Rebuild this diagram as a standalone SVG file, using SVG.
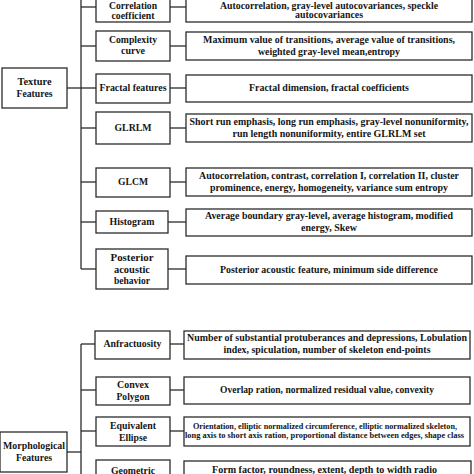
<svg xmlns="http://www.w3.org/2000/svg" width="474" height="474" viewBox="0 0 474 474">
<style>
rect{fill:#fff;stroke:#2b2b2b;stroke-width:1.3}
.c line{stroke:#2b2b2b;stroke-width:1.3}
text{font-family:"Liberation Serif","Times New Roman",serif;font-weight:bold;fill:#151515;text-anchor:middle}
.m{font-size:10.5px}
.r{font-size:10px}
.s{font-size:8.5px}
</style>
<rect x="0" y="0" width="474" height="474" style="fill:#fff;stroke:none"/>
<g class="c" id="connectors">
<line x1="81" y1="0" x2="81" y2="269"/>
<line x1="67" y1="88" x2="81" y2="88"/>
<line x1="81" y1="7" x2="96" y2="7"/><line x1="170" y1="7" x2="186" y2="7"/>
<line x1="81" y1="46" x2="96" y2="46"/><line x1="170" y1="46" x2="186" y2="46"/>
<line x1="81" y1="88" x2="96" y2="88"/><line x1="170" y1="88" x2="186" y2="88"/>
<line x1="81" y1="128" x2="96" y2="128"/><line x1="170" y1="128" x2="186" y2="128"/>
<line x1="81" y1="182" x2="96" y2="182"/><line x1="170" y1="182" x2="186" y2="182"/>
<line x1="81" y1="222" x2="96" y2="222"/><line x1="168" y1="222" x2="186" y2="222"/>
<line x1="81" y1="269" x2="96" y2="269"/><line x1="168" y1="269" x2="186" y2="269"/>
<line x1="81" y1="344" x2="81" y2="474"/>
<line x1="67" y1="452" x2="81" y2="452"/>
<line x1="81" y1="344" x2="95" y2="344"/><line x1="170" y1="344" x2="184" y2="344"/>
<line x1="81" y1="390" x2="96" y2="390"/><line x1="170" y1="390" x2="184" y2="390"/>
<line x1="81" y1="431" x2="96" y2="431"/><line x1="170" y1="431" x2="184" y2="431"/>
</g>
<g id="texture">
<rect x="2" y="68" width="65" height="40"/>
<text class="m" x="34.5" y="85" textLength="34" lengthAdjust="spacingAndGlyphs">Texture</text>
<text class="m" x="34.5" y="97" textLength="36" lengthAdjust="spacingAndGlyphs">Features</text>
</g>
<g id="correlation">
<rect x="96" y="-8" width="74" height="30"/>
<text class="m" x="133" y="8.5" textLength="48" lengthAdjust="spacingAndGlyphs">Correlation</text>
<text class="m" x="133" y="18.5" textLength="43" lengthAdjust="spacingAndGlyphs">coefficient</text>
</g>
<g id="correlation-detail">
<rect x="186" y="-8" width="286" height="30"/>
<text class="r" x="329" y="8.5" textLength="218" lengthAdjust="spacingAndGlyphs">Autocorrelation, gray-level autocovariances, speckle</text>
<text class="r" x="329" y="18" textLength="68" lengthAdjust="spacingAndGlyphs">autocovariances</text>
</g>
<g id="complexity">
<rect x="96" y="31" width="74" height="30"/>
<text class="m" x="133" y="42.5" textLength="48" lengthAdjust="spacingAndGlyphs">Complexity</text>
<text class="m" x="133" y="54" textLength="24" lengthAdjust="spacingAndGlyphs">curve</text>
</g>
<g id="complexity-detail">
<rect x="186" y="32" width="286" height="28"/>
<text class="r" x="329" y="42.5" textLength="252" lengthAdjust="spacingAndGlyphs">Maximum value of transitions, average value of transitions,</text>
<text class="r" x="329" y="54.5" textLength="142" lengthAdjust="spacingAndGlyphs">weighted gray-level mean,entropy</text>
</g>
<g id="fractal">
<rect x="96" y="74" width="74" height="29"/>
<text class="m" x="133" y="91" textLength="67" lengthAdjust="spacingAndGlyphs">Fractal features</text>
</g>
<g id="fractal-detail">
<rect x="186" y="75" width="286" height="27"/>
<text class="r" x="329" y="91" textLength="160" lengthAdjust="spacingAndGlyphs">Fractal dimension, fractal coefficients</text>
</g>
<g id="glrlm">
<rect x="96" y="112" width="74" height="32"/>
<text class="m" x="133" y="131" textLength="37" lengthAdjust="spacingAndGlyphs">GLRLM</text>
</g>
<g id="glrlm-detail">
<rect x="186" y="114" width="286" height="28"/>
<text class="r" x="329" y="124.5" textLength="279" lengthAdjust="spacingAndGlyphs">Short run emphasis, long run emphasis, gray-level nonuniformity,</text>
<text class="r" x="329" y="136.5" textLength="193" lengthAdjust="spacingAndGlyphs">run length nonuniformity, entire GLRLM set</text>
</g>
<g id="glcm">
<rect x="96" y="168" width="74" height="29"/>
<text class="m" x="133" y="185" textLength="30" lengthAdjust="spacingAndGlyphs">GLCM</text>
</g>
<g id="glcm-detail">
<rect x="186" y="168" width="286" height="28"/>
<text class="r" x="329" y="179" textLength="260" lengthAdjust="spacingAndGlyphs">Autocorrelation, contrast, correlation I, correlation II, cluster</text>
<text class="r" x="329" y="191" textLength="238" lengthAdjust="spacingAndGlyphs">prominence, energy, homogeneity, variance sum entropy</text>
</g>
<g id="histogram">
<rect x="96" y="211" width="72" height="22"/>
<text class="m" x="132" y="225" textLength="45" lengthAdjust="spacingAndGlyphs">Histogram</text>
</g>
<g id="histogram-detail">
<rect x="186" y="209" width="286" height="27"/>
<text class="r" x="329" y="218.5" textLength="248" lengthAdjust="spacingAndGlyphs">Average boundary gray-level, average histogram, modified</text>
<text class="r" x="329" y="231" textLength="56" lengthAdjust="spacingAndGlyphs">energy, Skew</text>
</g>
<g id="posterior">
<rect x="96" y="249" width="72" height="40"/>
<text class="m" x="132" y="261" textLength="43" lengthAdjust="spacingAndGlyphs">Posterior</text>
<text class="m" x="132" y="272.5" textLength="36" lengthAdjust="spacingAndGlyphs">acoustic</text>
<text class="m" x="132" y="284" textLength="36" lengthAdjust="spacingAndGlyphs">behavior</text>
</g>
<g id="posterior-detail">
<rect x="186" y="256" width="286" height="28"/>
<text class="r" x="329" y="272.5" textLength="218" lengthAdjust="spacingAndGlyphs">Posterior acoustic feature, minimum side difference</text>
</g>
<g id="morphological">
<rect x="0" y="432" width="67" height="40"/>
<text class="m" x="34" y="449" textLength="62" lengthAdjust="spacingAndGlyphs">Morphological</text>
<text class="m" x="34" y="461" textLength="36" lengthAdjust="spacingAndGlyphs">Features</text>
</g>
<g id="anfractuosity">
<rect x="95" y="331" width="75" height="28"/>
<text class="m" x="132.5" y="347" textLength="58" lengthAdjust="spacingAndGlyphs">Anfractuosity</text>
</g>
<g id="anfractuosity-detail">
<rect x="184" y="331" width="286" height="28"/>
<text class="r" x="327" y="341" textLength="280" lengthAdjust="spacingAndGlyphs">Number of substantial protuberances and depressions, Lobulation</text>
<text class="r" x="327" y="352.5" textLength="207" lengthAdjust="spacingAndGlyphs">index, spiculation, number of skeleton end-points</text>
</g>
<g id="convex">
<rect x="96" y="377" width="74" height="28"/>
<text class="m" x="133" y="387.5" textLength="32" lengthAdjust="spacingAndGlyphs">Convex</text>
<text class="m" x="133" y="399.5" textLength="33" lengthAdjust="spacingAndGlyphs">Polygon</text>
</g>
<g id="convex-detail">
<rect x="184" y="377" width="286" height="27"/>
<text class="r" x="327" y="392.5" textLength="214" lengthAdjust="spacingAndGlyphs">Overlap ration, normalized residual value, convexity</text>
</g>
<g id="ellipse">
<rect x="96" y="417" width="74" height="29"/>
<text class="m" x="133" y="428.5" textLength="46" lengthAdjust="spacingAndGlyphs">Equivalent</text>
<text class="m" x="133" y="440.5" textLength="28" lengthAdjust="spacingAndGlyphs">Ellipse</text>
</g>
<g id="ellipse-detail">
<rect x="184" y="417" width="286" height="29"/>
<text class="s" x="325" y="428.5" textLength="264" lengthAdjust="spacingAndGlyphs">Orientation, elliptic normalized circumference, elliptic normalized skeleton,</text>
<text class="s" x="324.5" y="437.5" textLength="279" lengthAdjust="spacingAndGlyphs">long axis to short axis ration, proportional distance between edges, shape class</text>
</g>
<g id="geometric">
<rect x="96" y="460" width="74" height="30"/>
<text class="m" x="133" y="473.5" textLength="44" lengthAdjust="spacingAndGlyphs">Geometric</text>
</g>
<g id="geometric-detail">
<rect x="184" y="461" width="287" height="30"/>
<text class="r" x="324.5" y="473" textLength="225" lengthAdjust="spacingAndGlyphs">Form factor, roundness, extent, depth to width radio</text>
</g>
</svg>
